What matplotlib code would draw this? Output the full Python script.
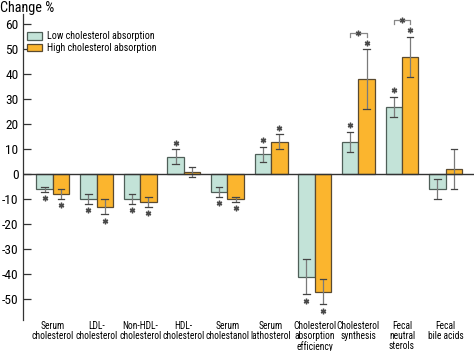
import matplotlib
matplotlib.use("Agg")
import matplotlib.pyplot as plt
import numpy as np
from matplotlib import font_manager as fm
from matplotlib.textpath import TextPath

categories = ["Serum\ncholesterol", "LDL-\ncholesterol", "Non-HDL-\ncholesterol", "HDL-\ncholesterol",
              "Serum\ncholestanol", "Serum\nlathosterol", "Cholesterol\nabsorption\nefficiency",
              "Cholesterol\nsynthesis", "Fecal\nneutral\nsterols", "Fecal\nbile acids"]
low_vals = [-6, -10, -10, 7, -7, 8, -41, 13, 27, -6]
low_err = [1, 2, 2, 3, 2, 3, 7, 4, 4, 4]
high_vals = [-8, -13, -11, 1, -10, 13, -47, 38, 47, 2]
high_err = [2, 3, 2, 2, 1, 3, 5, 12, 8, 8]
low_sig = [1, 1, 1, 1, 1, 1, 1, 1, 1, 0]
high_sig = [1, 1, 1, 0, 1, 1, 1, 1, 1, 0]
between_sig = [0, 0, 0, 0, 0, 0, 0, 1, 1, 0]
yticks = list(range(-50, 61, 10))

plt.rcParams['axes.unicode_minus'] = False


def pick_font():
    fl = fm.fontManager.ttflist
    def regular(f):
        return f.style == "normal" and f.weight in (400, "normal", "regular", "book")
    prefs = [
        lambda f: f.name == "Liberation Sans Narrow" and regular(f),
        lambda f: "Condensed" in f.name and "Roboto" in f.name and regular(f),
        lambda f: "Condensed" in f.name and "Open Sans" in f.name and regular(f),
        lambda f: f.name == "DejaVu Sans" and "condensed" in str(f.stretch).lower() and regular(f) and "Bold" not in f.fname and "Oblique" not in f.fname,
        lambda f: ("Condensed" in f.fname or "Narrow" in f.fname) and regular(f) and "Bold" not in f.fname and "Italic" not in f.fname and "Oblique" not in f.fname,
    ]
    for p in prefs:
        for f in fl:
            try:
                if p(f):
                    return fm.FontProperties(fname=f.fname)
            except Exception:
                pass
    return fm.FontProperties(family="Liberation Sans")


FP = pick_font()


def size_w(text, target_px):
    w = TextPath((0, 0), text, size=10, prop=FP).get_extents().width
    return 10 * target_px * 0.72 / w


def size_h(text, target_px):
    h = TextPath((0, 0), text, size=10, prop=FP).get_extents().height
    return 10 * target_px * 0.72 / h


cat_fs = 0.5 * (size_w("cholesterol", 38.5) + size_h("H", 6.8)) * 1.03
tick_fs = size_h("0", 8.5) * 1.15
leg_fs = 0.5 * (size_w("Low cholesterol absorption", 100) + size_h("L", 6.6)) * 1.07
title_fs = 0.5 * (size_w("Change %", 50) + size_h("C", 8.3)) * 1.15


def fprop(size):
    p = FP.copy()
    p.set_size(size)
    return p


low_color = "#c3e3d8"
high_color = "#fbb52e"
low_edge = "#4f5f58"
high_edge = "#5a4a30"

fig = plt.figure(figsize=(4.74, 3.51), dpi=100)
ax = fig.add_axes([0.048, 0.088, 0.952, 0.872])

x = np.arange(len(categories))
w = 0.377
b1 = ax.bar(x - w / 2, low_vals, w, color=low_color, edgecolor=low_edge, linewidth=0.9, zorder=2,
            label="Low cholesterol absorption")
b2 = ax.bar(x + w / 2, high_vals, w, color=high_color, edgecolor=high_edge, linewidth=0.9, zorder=2,
            label="High cholesterol absorption")

for xs, vals, errs in [(x - w / 2, low_vals, low_err), (x + w / 2, high_vals, high_err)]:
    ax.errorbar(xs, vals, yerr=errs, fmt="none", ecolor="#7a7a7a", elinewidth=0.9,
                capsize=0, zorder=3)
    for xi, v, e in zip(xs, vals, errs):
        ax.plot([xi - 0.075, xi + 0.075], [v + e, v + e], color="#444444", lw=0.9, zorder=4)
        ax.plot([xi - 0.075, xi + 0.075], [v - e, v - e], color="#444444", lw=0.9, zorder=4)

ax.axhline(0, color="#333333", lw=1.0, zorder=4)

off = 2.5
for xs, vals, errs, sig in [(x - w / 2, low_vals, low_err, low_sig), (x + w / 2, high_vals, high_err, high_sig)]:
    for xi, v, e, s in zip(xs, vals, errs, sig):
        if not s:
            continue
        y = v + e + off if v >= 0 else v - e - off
        ax.plot(xi, y, marker=(6, 2, 0), ms=4.0, mew=1.0, color="#4a4a4a", zorder=5)

for i, s in enumerate(between_sig):
    if not s:
        continue
    top = max(low_vals[i] + low_err[i], high_vals[i] + high_err[i]) + 6.5
    xl, xr = x[i] - w / 2, x[i] + w / 2
    gap = 0.07
    ax.plot([xl, xl, x[i] - gap], [top - 1.6, top, top], color="#888888", lw=0.9, zorder=5)
    ax.plot([x[i] + gap, xr, xr], [top, top, top - 1.6], color="#888888", lw=0.9, zorder=5)
    ax.plot(x[i], top, marker=(6, 2, 0), ms=4.0, mew=1.0, color="#4a4a4a", zorder=5)

ax.set_xlim(-0.69, 9.65)
ax.set_ylim(-58.3, 64)
ax.set_yticks(yticks)
ax.set_yticklabels([str(t) for t in yticks], fontproperties=fprop(tick_fs))
ax.tick_params(axis="y", direction="in", length=5.5, width=0.9, color="#333333", pad=3.0)
ax.set_xticks(x)
ax.set_xticklabels(categories, fontproperties=fprop(cat_fs), linespacing=1.0)
ax.tick_params(axis="x", length=0, pad=0.8)
for sp in ["top", "right", "bottom"]:
    ax.spines[sp].set_visible(False)
ax.spines["left"].set_linewidth(0.9)
ax.spines["left"].set_color("#333333")

fig.text(0.0, 0.978, "Change %", fontproperties=fprop(title_fs), ha="left", va="center")

ax.legend(handles=[b1, b2], loc="upper left", bbox_to_anchor=(0.005, 0.95), frameon=False,
          prop=fprop(leg_fs), handlelength=1.5, handleheight=0.75, labelspacing=0.15,
          handletextpad=0.45, borderaxespad=0.0, borderpad=0.2)

fig.savefig("out.png", dpi=100)
